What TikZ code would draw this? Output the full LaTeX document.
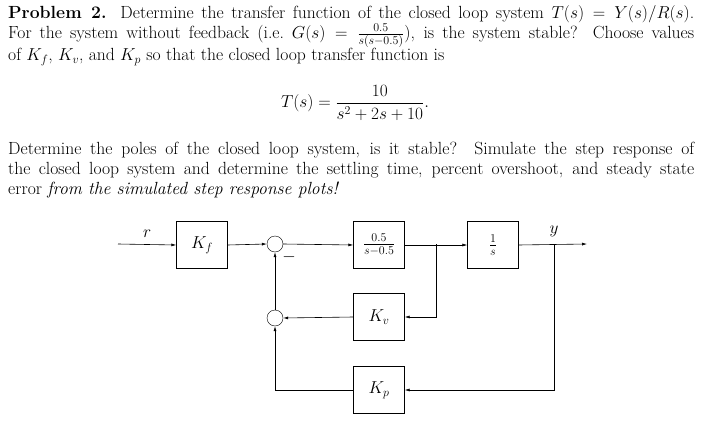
\documentclass[tikz,border=0pt]{standalone}
\usetikzlibrary{arrows.meta}
\begin{document}
\begin{tikzpicture}[x=1pt,y=-1pt,
  blk/.style={draw,minimum width=51pt,minimum height=47pt,inner sep=0pt,font=\fontsize{17}{19}\selectfont},
  sumc/.style={draw,circle,minimum size=16pt,inner sep=0pt},
  sig/.style={-{Latex[length=5pt,width=3pt]},line width=0.6pt}]
\useasboundingbox (0,0) rectangle (701,425);
\node[anchor=north west,inner sep=0pt,text width=686pt,align=justify,font=\fontsize{17.6}{20}\selectfont] (p1) at (8,5)
{\textbf{Problem 2.} Determine the transfer function of the closed loop system $T(s)=Y(s)/R(s)$.\linebreak For the system without feedback (i.e.\ $G(s)=\frac{0.5}{s(s-0.5)}$), is the system stable? Choose values\linebreak of $K_f$, $K_v$, and $K_p$ so that the closed loop transfer function is};
\node[font=\fontsize{17.6}{20}\selectfont] (eq) at (355,103) {$\displaystyle T(s)=\frac{10}{s^2+2s+10}.$};
\node[anchor=north west,inner sep=0pt,text width=686pt,align=justify,font=\fontsize{17.6}{20}\selectfont] (p2) at (8,142)
{Determine the poles of the closed loop system, is it stable? Simulate the step response of\linebreak the closed loop system and determine the settling time, percent overshoot, and steady state\linebreak error \emph{from the simulated step response plots!}};
\begin{scope}[font=\fontsize{17}{19}\selectfont]
\node[blk] (kf) at (202,245) {$K_f$};
\node[sumc] (s1) at (275,244) {};
\node[blk] (g) at (379,245) {$\frac{0.5}{s-0.5}$};
\node[blk] (int) at (493,245) {$\frac{1}{s}$};
\node[blk] (kv) at (379,317) {$K_v$};
\node[sumc] (s2) at (275,318) {};
\node[blk] (kp) at (379,390) {$K_p$};
\coordinate (in) at (118,244);
\coordinate (out) at (587,244);
\coordinate (bv) at (436,244);
\coordinate (by) at (554,244);
\draw[sig] (in) -- node[above=3pt] {$r$} (kf.west);
\draw[sig] (kf.east) -- (s1.west);
\draw[sig] (s1.east) -- (g.west);
\draw[sig] (g.east) -- (int.west);
\draw[sig] (int.east) -- (out);
\node (ylab) at (by |- 0,231) {$y$};
\draw[sig] (bv) |- (kv.east);
\draw[sig] (kv.west) -- (s2.east);
\draw[sig] (s2.north) -- (s1.south);
\draw[sig] (by) |- (kp.east);
\draw[sig] (kp.west) -| (s2.south);
\node (minus) at (289,257) {$-$};
\end{scope}
\end{tikzpicture}
\end{document}
